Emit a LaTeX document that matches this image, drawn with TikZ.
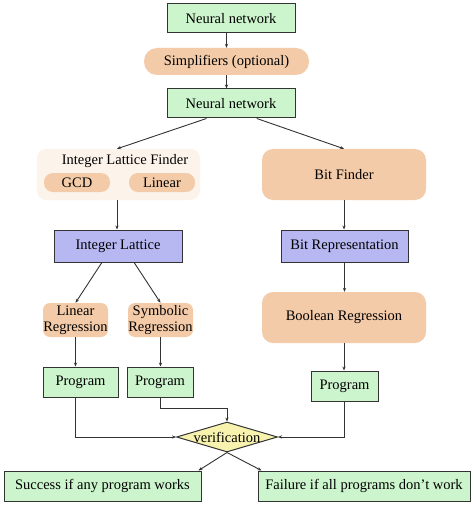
\documentclass[tikz,border=0pt]{standalone}
\usepackage{fontspec}
\setmainfont{Liberation Serif}
\usetikzlibrary{shapes.geometric,arrows.meta,calc}
\definecolor{gfill}{HTML}{CDF5CD}
\definecolor{bfill}{HTML}{B7B7F2}
\definecolor{pfill}{HTML}{F4CBA8}
\definecolor{cfill}{HTML}{FCF3EA}
\definecolor{yfill}{HTML}{F7F2AE}
\definecolor{edge}{HTML}{333333}
\tikzset{
  every node/.style={font=\fontsize{14.5}{16}\selectfont, text=black, inner sep=0pt},
  greenbox/.style={draw=edge, line width=1pt, fill=gfill, rectangle},
  bluebox/.style={draw=edge, line width=1pt, fill=bfill, rectangle},
  peachbox/.style={fill=pfill, rectangle, rounded corners=#1},
  peachbox/.default=9pt,
  conn/.style={draw=edge, line width=0.9pt, -{Stealth[length=4pt,width=3.2pt]}},
}
\begin{document}
\begin{tikzpicture}[x=1pt,y=-1pt]
\useasboundingbox (0,0) rectangle (474,505);
% top chain
\node[greenbox, minimum width=128, minimum height=29] (nn1) at (231,18.5) {Neural network};
\node[peachbox=13pt, minimum width=165, minimum height=27] (simp) at (226.5,61.5) {Simplifiers (optional)};
\node[greenbox, minimum width=128, minimum height=29] (nn2) at (231,103.5) {Neural network};
% left branch
\node[fill=cfill, rounded corners=9pt, minimum width=163, minimum height=51] (ilf) at (118.5,174.5) {};
\node (ilft) at (125,161) {Integer Lattice Finder};
\node[peachbox, minimum width=66, minimum height=19] (gcd) at (77,182.5) {GCD};
\node[peachbox, minimum width=66, minimum height=19] (lin) at (162,182.5) {Linear};
\node[bluebox, minimum width=128, minimum height=32] (il) at (118,246) {Integer Lattice};
\node[peachbox=7pt, minimum width=65, minimum height=34, align=center] (linreg) at (75.5,320) {Linear\\Regression};
\node[peachbox=7pt, minimum width=65, minimum height=34, align=center] (symreg) at (160.5,320) {Symbolic\\Regression};
\node[greenbox, minimum width=75, minimum height=30] (p1) at (80.5,382) {Program};
\node[greenbox, minimum width=66, minimum height=30] (p2) at (160,382) {Program};
% right branch
\node[peachbox=11pt, minimum width=164, minimum height=51] (bitf) at (344,174.5) {Bit Finder};
\node[bluebox, minimum width=127, minimum height=32] (bitrep) at (344.5,246) {Bit Representation};
\node[peachbox=11pt, minimum width=164, minimum height=51] (boolreg) at (344,317.5) {Boolean Regression};
\node[greenbox, minimum width=67, minimum height=30] (p3) at (344.5,386) {Program};
% verification
\node[diamond, draw=edge, line width=1pt, fill=yfill, minimum width=101, minimum height=30, aspect=3.37,
      label={center:verification}] (ver) at (227,437) {};
\node[greenbox, minimum width=197, minimum height=30] (succ) at (102.5,486) {Success if any program works};
\node[greenbox, minimum width=212, minimum height=30] (fail) at (364,486) {Failure if all programs don’t work};
% helper coordinates
\coordinate (ilfs) at ($(ilf.south)+(-1.5,0)$);
\coordinate (ilfn) at ($(ilf.north)+(-1.5,0)$);
\coordinate (nnl) at ($(nn2.south west)!0.31!(nn2.south east)$);
\coordinate (nnr) at ($(nn2.south west)!0.70!(nn2.south east)$);
\coordinate (ill) at ($(il.south west)!0.375!(il.south east)$);
\coordinate (ilr) at ($(il.south west)!0.625!(il.south east)$);
\coordinate (succt) at ($(succ.north east)+(-3,0)$);
\coordinate (failt) at ($(fail.north west)+(4,0)$);
% connectors
\draw[conn] (simp.north |- nn1.south) -- (simp.north);
\draw[conn] (simp.south) -- (simp.south |- nn2.north);
\draw[conn] (nnl) -- (ilfn);
\draw[conn] (nnr) -- (bitf.north);
\draw[conn] (ilfs) -- (ilfs |- il.north);
\draw[conn] (bitf.south) -- (bitf.south |- bitrep.north);
\draw[conn] (ill) -- (linreg.north);
\draw[conn] (ilr) -- (symreg.north);
\draw[conn] (bitrep.south) -- (bitrep.south |- boolreg.north);
\draw[conn] (linreg.south) -- (linreg.south |- p1.north);
\draw[conn] (symreg.south) -- (symreg.south |- p2.north);
\draw[conn] (boolreg.south) -- (boolreg.south |- p3.north);
\draw[conn] (linreg.south |- p1.south) |- (ver.west);
\draw[conn] (symreg.south |- p2.south) -- ++(0,11) -| (ver.north);
\draw[conn] (p3.south) |- (ver.east);
\draw[conn] (ver.south) -- (succt);
\draw[conn] (ver.south) -- (failt);
\end{tikzpicture}
\end{document}
